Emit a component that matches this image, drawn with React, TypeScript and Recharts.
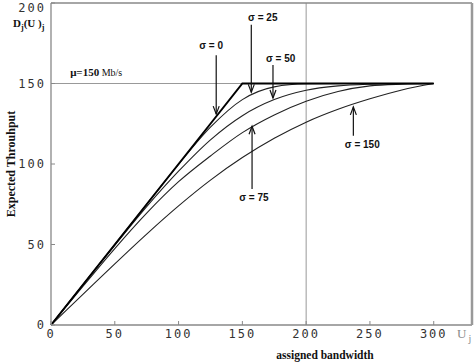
import {
  ComposedChart,
  Line,
  ReferenceDot,
  ReferenceLine,
  XAxis,
  YAxis,
} from 'recharts'

// assigned bandwidth U_j (Mb/s)
const bandwidth = [0, 25, 50, 75, 100, 125, 150, 175, 200, 225, 250, 275, 300]

// expected throughput for each sigma
const sigma0 = [0, 25, 50, 75, 100, 125, 150, 150, 150, 150, 150, 150, 150]
const sigma25 = [0, 25, 50, 75, 99.8, 122.9, 140, 147.9, 149.8, 150, 150, 150, 150]
const sigma50 = [0, 25, 49.5, 73.5, 95.5, 115, 130, 140, 145.8, 148.5, 149.6, 150, 150]
const sigma75 = [0, 24, 47.5, 69.5, 89, 105, 119.5, 130.5, 139, 145, 148.5, 149.6, 150]
const sigma150 = [0, 19, 38, 56.5, 74, 90, 104, 116, 126, 134, 140.5, 146, 150]

const xTicks = [0, 50, 100, 150, 200, 250, 300]
const yTicks = [0, 50, 100, 150, 200]

const mu = 150
const cutoff = 200

// arrow annotations: label, arrow x, label position, arrow start y, arrow tip y
const notes = [
  { label: 'σ = 0', x: 129.5, tx: 125.5, ty: 173.3, from: 167.5, to: 131 },
  { label: 'σ = 25', x: 157, tx: 166, ty: 191.3, from: 186.5, to: 144.5 },
  { label: 'σ = 50', x: 174, tx: 180, ty: 165.8, from: 161.5, to: 141 },
  { label: 'σ = 75', x: 157.6, tx: 159, ty: 79.5, from: 84.5, to: 123.5 },
  { label: 'σ = 150', x: 237, tx: 244, ty: 112.4, from: 117.5, to: 135.5 },
]

const data = bandwidth.map((u, i) => ({
  u,
  s0: sigma0[i],
  s25: sigma25[i],
  s50: sigma50[i],
  s75: sigma75[i],
  s150: sigma150[i],
}))

const tickFont = { fill: '#333', fontSize: 12, fontFamily: 'DejaVu Sans Mono', letterSpacing: 2 }

function Arrow(p: any) {
  const { x1, y1, x2, y2 } = p
  const dir = y2 > y1 ? 1 : -1
  return (
    <g>
      <line x1={x1} y1={y1} x2={x2} y2={y2} stroke="#111" strokeWidth={1.2} />
      <path
        d={`M${x2 - 3},${y2 - dir * 8} L${x2},${y2} L${x2 + 3},${y2 - dir * 8}`}
        fill="none"
        stroke="#111"
        strokeWidth={1.2}
      />
    </g>
  )
}

export default function App() {
  return (
    <div style={{ position: 'absolute', left: 0, top: 0, width: 474, height: 362 }}>
      <ComposedChart width={474} height={362} data={data} margin={{ top: 0, right: 0, bottom: 0, left: 0 }}>
        <XAxis
          dataKey="u"
          type="number"
          domain={[0, 330]}
          ticks={xTicks}
          height={37}
          tickSize={-4}
          tickMargin={8}
          tick={tickFont}
          axisLine={{ stroke: '#888', strokeWidth: 1.3 }}
          tickLine={{ stroke: '#888' }}
        />
        <XAxis
          xAxisId="top"
          orientation="top"
          type="number"
          domain={[0, 330]}
          ticks={xTicks}
          height={3}
          tickSize={-4}
          tick={false}
          axisLine={{ stroke: '#888', strokeWidth: 1.3 }}
          tickLine={{ stroke: '#888' }}
        />
        <YAxis
          type="number"
          domain={[0, 200]}
          ticks={yTicks}
          width={51}
          tickSize={-4}
          tickMargin={9}
          tick={tickFont}
          axisLine={{ stroke: '#888', strokeWidth: 1.3 }}
          tickLine={{ stroke: '#888' }}
        />
        <YAxis
          yAxisId="right"
          orientation="right"
          type="number"
          domain={[0, 200]}
          ticks={yTicks}
          width={2}
          tickSize={-4}
          tick={false}
          axisLine={{ stroke: '#999', strokeWidth: 2.5 }}
          tickLine={{ stroke: '#888' }}
        />
        <ReferenceLine
          segment={[
            { x: 0, y: mu },
            { x: 300, y: mu },
          ]}
          stroke="#999"
          strokeWidth={1}
        />
        <ReferenceLine x={cutoff} stroke="#999" strokeWidth={1} />
        <Line type="monotone" dataKey="s150" stroke="#222" strokeWidth={1.1} dot={false} isAnimationActive={false} />
        <Line type="monotone" dataKey="s75" stroke="#222" strokeWidth={1.1} dot={false} isAnimationActive={false} />
        <Line type="monotone" dataKey="s50" stroke="#222" strokeWidth={1.1} dot={false} isAnimationActive={false} />
        <Line type="monotone" dataKey="s25" stroke="#222" strokeWidth={1.1} dot={false} isAnimationActive={false} />
        <Line type="linear" dataKey="s0" stroke="#000" strokeWidth={2} dot={false} isAnimationActive={false} />
        {notes.map((n) => (
          <ReferenceLine
            key={n.label + 'a'}
            segment={[
              { x: n.x, y: n.from },
              { x: n.x, y: n.to },
            ]}
            shape={Arrow}
          />
        ))}
        {notes.map((n) => (
          <ReferenceDot
            key={n.label}
            x={n.tx}
            y={n.ty}
            shape={(p: any) => (
              <text
                x={p.cx}
                y={p.cy}
                textAnchor="middle"
                dominantBaseline="central"
                fontFamily="Liberation Sans"
                fontWeight="bold"
                fontSize={10}
                fill="#111"
              >
                {n.label}
              </text>
            )}
          />
        ))}
        <ReferenceDot
          x={15}
          y={157}
          shape={(p: any) => (
            <text x={p.cx} y={p.cy + 4} fontFamily="Liberation Serif" fill="#111">
              <tspan fontWeight="bold" fontSize={11}>μ=150</tspan>
              <tspan fontSize={10}> Mb/s</tspan>
            </text>
          )}
        />
      </ComposedChart>
      <svg width={474} height={362} style={{ position: 'absolute', left: 0, top: 0, pointerEvents: 'none' }}>
        <text x={13} y={27} fontFamily="Liberation Serif" fontWeight="bold" fontSize={11} fill="#111">
          D<tspan dy={3} fontSize={8}>j</tspan>
          <tspan dy={-3}>(U )</tspan>
          <tspan dy={3} fontSize={8}>j</tspan>
        </text>
        <text
          x={11}
          y={164}
          transform="rotate(-90 11 164)"
          textAnchor="middle"
          dominantBaseline="central"
          fontFamily="Liberation Serif"
          fontWeight="bold"
          fontSize={12}
          fill="#111"
        >
          Expected Throuhput
        </text>
        <text x={325} y={359} textAnchor="middle" fontFamily="Liberation Serif" fontWeight="bold" fontSize={11.5} fill="#111">
          assigned bandwidth
        </text>
        <text x={457} y={338} fontFamily="Liberation Serif" fontSize={13} fill="#888">
          U<tspan dx={2} dy={4} fontSize={10}>j</tspan>
        </text>
      </svg>
    </div>
  )
}
